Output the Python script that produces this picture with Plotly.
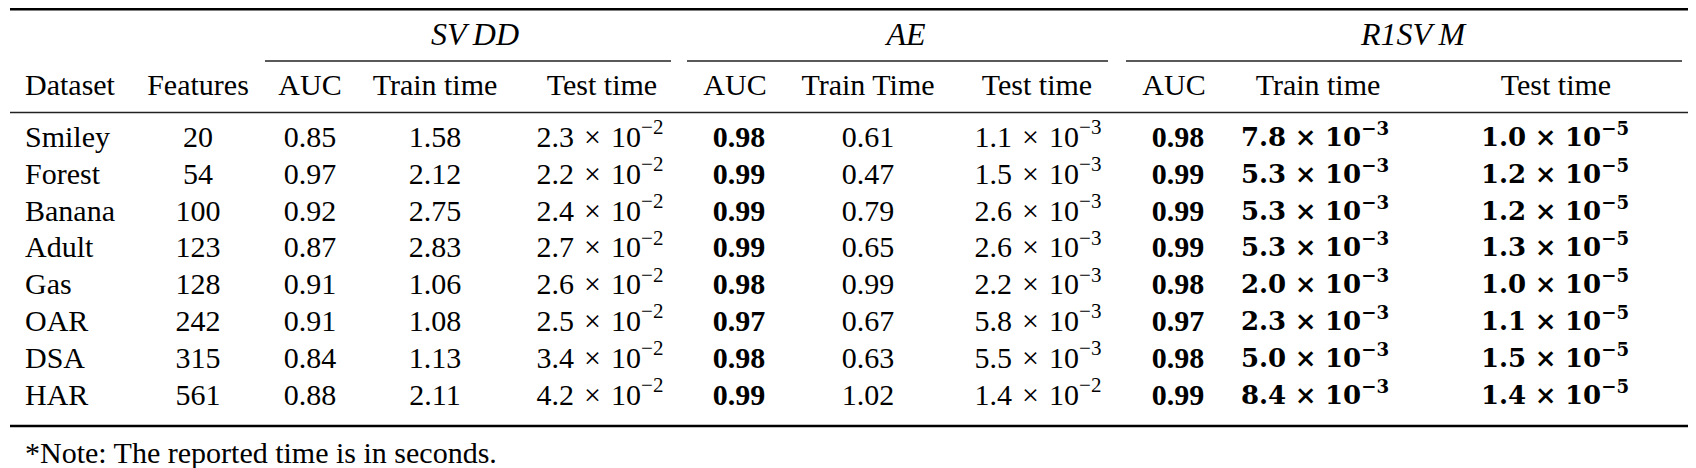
import plotly.graph_objects as go

# ---------------- data ----------------
datasets = ["Smiley", "Forest", "Banana", "Adult", "Gas", "OAR", "DSA", "HAR"]
features = [20, 54, 100, 123, 128, 242, 315, 561]

svdd_auc = [0.85, 0.97, 0.92, 0.87, 0.91, 0.91, 0.84, 0.88]
svdd_train = [1.58, 2.12, 2.75, 2.83, 1.06, 1.08, 1.13, 2.11]
svdd_test_mant = [2.3, 2.2, 2.4, 2.7, 2.6, 2.5, 3.4, 4.2]
svdd_test_exp = [-2, -2, -2, -2, -2, -2, -2, -2]

ae_auc = [0.98, 0.99, 0.99, 0.99, 0.98, 0.97, 0.98, 0.99]
ae_train = [0.61, 0.47, 0.79, 0.65, 0.99, 0.67, 0.63, 1.02]
ae_test_mant = [1.1, 1.5, 2.6, 2.6, 2.2, 5.8, 5.5, 1.4]
ae_test_exp = [-3, -3, -3, -3, -3, -3, -3, -2]

r1_auc = [0.98, 0.99, 0.99, 0.99, 0.98, 0.97, 0.98, 0.99]
r1_train_mant = [7.8, 5.3, 5.3, 5.3, 2.0, 2.3, 5.0, 8.4]
r1_train_exp = [-3, -3, -3, -3, -3, -3, -3, -3]
r1_test_mant = [1.0, 1.2, 1.2, 1.3, 1.0, 1.1, 1.5, 1.4]
r1_test_exp = [-5, -5, -5, -5, -5, -5, -5, -5]

group_labels = ["SV\u2009DD", "AE", "R1SV\u2009M"]
col_labels = ["Dataset", "Features", "AUC", "Train time", "Test time",
              "AUC", "Train Time", "Test time", "AUC", "Train time", "Test time"]
note_text = "*Note: The reported time is in seconds."

# ---------------- layout helpers (styles / positions) ----------------
W, H = 1696, 468
SERIF = "Liberation Serif, Times New Roman, serif"
MATHB = "DejaVu Serif, serif"
FS = 30

row_y0, row_step = 131.5, 36.8
rows_y = [row_y0 + i * row_step for i in range(len(datasets))]


def sci(m, e, sp="\u2004"):
    return f"{m:.1f}{sp}×{sp}10<sup>\u2212{abs(e)}</sup>"


def bold(s):
    return f"<b>{s}</b>"


columns = [
    # x, texts, position, family, size
    (17, datasets, "middle right", SERIF, FS),
    (190, [str(v) for v in features], "middle center", SERIF, FS),
    (302, [f"{v:.2f}" for v in svdd_auc], "middle center", SERIF, FS),
    (427, [f"{v:.2f}" for v in svdd_train], "middle center", SERIF, FS),
    (592, [sci(m, e) for m, e in zip(svdd_test_mant, svdd_test_exp)], "middle center", SERIF, FS),
    (731, [bold(f"{v:.2f}") for v in ae_auc], "middle center", SERIF, FS),
    (860, [f"{v:.2f}" for v in ae_train], "middle center", SERIF, FS),
    (1030, [sci(m, e) for m, e in zip(ae_test_mant, ae_test_exp)], "middle center", SERIF, FS),
    (1170, [bold(f"{v:.2f}") for v in r1_auc], "middle center", SERIF, FS),
    (1307, [bold(sci(m, e)) for m, e in zip(r1_train_mant, r1_train_exp)], "middle center", MATHB, 26),
    (1547, [bold(sci(m, e)) for m, e in zip(r1_test_mant, r1_test_exp)], "middle center", MATHB, 26),
]
header_x = [17, 190, 302, 427, 594, 727, 860, 1029, 1166, 1310, 1548]
header_y = 79
group_x = [467, 898, 1405]
group_y = 29
cmid = [(257, 663), (679, 1100), (1118, 1674)]

fig = go.Figure()

for x, texts, pos, fam, size in columns:
    fig.add_trace(go.Scatter(
        x=[x] * len(texts), y=rows_y, mode="text", text=texts,
        textposition=pos, textfont=dict(family=fam, size=size, color="black"),
        hoverinfo="skip", showlegend=False))

# column headers
for i, (x, lab) in enumerate(zip(header_x, col_labels)):
    fig.add_trace(go.Scatter(
        x=[x], y=[header_y], mode="text", text=[lab],
        textposition="middle right" if i == 0 else "middle center",
        textfont=dict(family=SERIF, size=FS, color="black"),
        hoverinfo="skip", showlegend=False))

# group headers (math italic)
fig.add_trace(go.Scatter(
    x=group_x, y=[group_y] * 3, mode="text",
    text=[f"<i>{g}</i>" for g in group_labels], textposition="middle center",
    textfont=dict(family=SERIF, size=32, color="black"),
    hoverinfo="skip", showlegend=False))

# note
fig.add_trace(go.Scatter(
    x=[17], y=[447], mode="text", text=[note_text], textposition="middle right",
    textfont=dict(family=SERIF, size=FS, color="black"),
    hoverinfo="skip", showlegend=False))

shapes = [
    dict(type="line", x0=2, x1=1692, y0=1.3, y1=1.3, line=dict(color="black", width=2.6)),
    dict(type="line", x0=2, x1=1692, y0=104.5, y1=104.5, line=dict(color="#222", width=1.5)),
    dict(type="line", x0=2, x1=1692, y0=418, y1=418, line=dict(color="black", width=2.6)),
]
for a, b in cmid:
    shapes.append(dict(type="line", x0=a, x1=b, y0=53, y1=53, line=dict(color="#222", width=1.3)))

fig.update_layout(
    width=W, height=H, margin=dict(l=0, r=0, t=0, b=0),
    paper_bgcolor="white", plot_bgcolor="white",
    xaxis=dict(range=[0, W], visible=False, fixedrange=True),
    yaxis=dict(range=[H, 0], visible=False, fixedrange=True),
    shapes=shapes, showlegend=False,
)

fig.write_html("out.html", config={"displayModeBar": False})
